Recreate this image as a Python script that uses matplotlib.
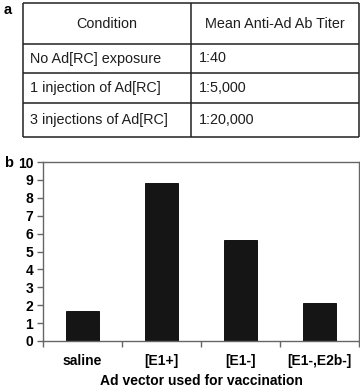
import matplotlib
matplotlib.use("Agg")
import matplotlib.pyplot as plt
import numpy as np

plt.rcParams['font.family'] = ['Liberation Sans', 'DejaVu Sans']

# Table data
table_header = ["Condition", "Mean Anti-Ad Ab Titer"]
table_conditions = ["No Ad[RC] exposure", "1 injection of Ad[RC]", "3 injections of Ad[RC]"]
table_titers = ["1:40", "1:5,000", "1:20,000"]

# Bar chart data
categories = ["saline", "[E1+]", "[E1-]", "[E1-,E2b-]"]
values = [1.68, 8.83, 5.62, 2.13]
yticks = list(range(0, 11))
xlabel = "Ad vector used for vaccination"

W, H = 360, 387
fig = plt.figure(figsize=(W / 100, H / 100), dpi=100)

# ---- Panel a: table drawn in pixel coordinates ----
axt = fig.add_axes([0, 0, 1, 1])
axt.set_xlim(0, W)
axt.set_ylim(H, 0)
axt.axis('off')

tl, tr, tc = 23, 359, 191
row_edges = [3, 44, 73, 103, 137]
lc = '#222222'
for y in row_edges:
    axt.plot([tl, tr], [y, y], color=lc, lw=1.1, solid_capstyle='butt')
for x in (tl, tc, tr):
    axt.plot([x, x], [row_edges[0], row_edges[-1]], color=lc, lw=1.1, solid_capstyle='butt')

fs = 10.4
tcol = '#1e1e1e'
axt.text((tl + tc) / 2, (row_edges[0] + row_edges[1]) / 2, table_header[0],
         ha='center', va='center', fontsize=fs, color=tcol)
axt.text((tc + tr) / 2, (row_edges[0] + row_edges[1]) / 2, table_header[1],
         ha='center', va='center', fontsize=fs, color=tcol)
for i, (c, t) in enumerate(zip(table_conditions, table_titers)):
    yc = (row_edges[i + 1] + row_edges[i + 2]) / 2
    axt.text(tl + 7, yc, c, ha='left', va='center', fontsize=fs, color=tcol)
    axt.text(tc + 8, yc, t, ha='left', va='center', fontsize=fs, color=tcol)

axt.text(4, 10, "a", ha='left', va='center', fontsize=10.5, fontweight='bold')
axt.text(4, 163, "b", ha='left', va='center', fontsize=10.5, fontweight='bold')

# ---- Panel b: bar chart ----
left, right, top, bottom = 43, 359, 162, 341
ax = fig.add_axes([left / W, 1 - bottom / H, (right - left) / W, (bottom - top) / H])
x = np.arange(len(categories))
ax.bar(x, values, width=0.41, color='#151515', edgecolor='#000000', linewidth=0.6)
ax.set_xlim(-0.5, len(categories) - 0.5)
ax.set_ylim(0, 10)
ax.set_yticks(yticks)
ax.set_yticklabels([str(v) for v in yticks], fontsize=10, fontweight='bold')
ax.set_xticks(x)
ax.set_xticklabels(categories, fontsize=10, fontweight='bold')
ax.set_xticks(np.arange(-0.5, len(categories)), minor=True)
ax.tick_params(axis='x', which='major', length=0, pad=9.5)
ax.tick_params(axis='x', which='minor', length=4, width=1, color='#666666', direction='out')
ax.tick_params(axis='y', length=4, width=1, color='#666666', direction='out', pad=3)
for s in ax.spines.values():
    s.set_color('#666666')
    s.set_linewidth(1.0)
ax.set_xlabel(xlabel, fontsize=10, fontweight='bold', labelpad=4.5)

fig.savefig("out.png", dpi=100)
